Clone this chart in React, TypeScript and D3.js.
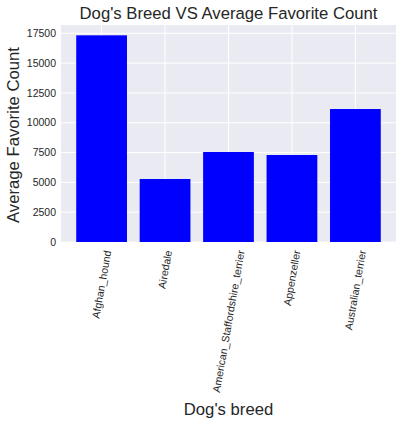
import React, { useEffect, useRef } from "react";
import * as d3 from "d3";

const breeds = ["Afghan_hound", "Airedale", "American_Staffordshire_terrier", "Appenzeller", "Australian_terrier"];
const avgFavorites = [17330, 5283, 7547, 7295, 11152];
const yTicks = [0, 2500, 5000, 7500, 10000, 12500, 15000, 17500];
const title = "Dog's Breed VS Average Favorite Count";
const xLabel = "Dog's breed";
const yLabel = "Average Favorite Count";

const W = 403;
const H = 425;
const FONT = "'Liberation Sans', Arial, sans-serif";
const TEXT = "#262626";

export default function App() {
  const ref = useRef<SVGSVGElement | null>(null);

  useEffect(() => {
    const svg = d3.select(ref.current);
    svg.selectAll("*").remove();

    const left = 61, right = 396, top = 25, bottom = 242;
    const n = breeds.length;
    const x = d3.scaleLinear().domain([-0.64, n - 1 + 0.64]).range([left, right]);
    const y = d3.scaleLinear().domain([0, d3.max(avgFavorites)! * 1.05]).range([bottom, top]);

    svg.append("rect").attr("x", left).attr("y", top).attr("width", right - left).attr("height", bottom - top).attr("fill", "#EAEAF2");

    // grid
    svg.selectAll("line.hg").data(yTicks).enter().append("line")
      .attr("x1", left).attr("x2", right)
      .attr("y1", d => y(d)).attr("y2", d => y(d))
      .attr("stroke", "#fff").attr("stroke-width", 1);
    svg.selectAll("line.vg").data(breeds).enter().append("line")
      .attr("x1", (_, i) => x(i)).attr("x2", (_, i) => x(i))
      .attr("y1", top).attr("y2", bottom)
      .attr("stroke", "#fff").attr("stroke-width", 1);

    // bars
    svg.selectAll("rect.bar").data(avgFavorites).enter().append("rect")
      .attr("x", (_, i) => x(i - 0.4))
      .attr("width", x(0.4) - x(-0.4))
      .attr("y", d => y(d))
      .attr("height", d => bottom - y(d))
      .attr("fill", "#0000FF");

    // y tick labels
    svg.selectAll("text.yt").data(yTicks).enter().append("text")
      .attr("x", 56).attr("y", d => y(d))
      .attr("dy", "0.35em")
      .attr("text-anchor", "end")
      .attr("font-family", FONT).attr("font-size", 10.5).attr("fill", TEXT)
      .text(d => String(d));

    // x tick labels rotated 80deg
    const ang = 80;
    const rad = (ang * Math.PI) / 180;
    const fs = 10.6;
    breeds.forEach((b, i) => {
      const t = svg.append("text")
        .attr("font-family", FONT).attr("font-size", fs).attr("fill", TEXT)
        .attr("text-anchor", "end")
        .attr("dy", "0.35em")
        .text(b);
      const w = (t.node() as SVGTextElement).getComputedTextLength();
      const ax = x(i) + Math.cos(rad) * w / 2;
      const ay = 249.5 + Math.cos(rad) * fs / 2;
      t.attr("transform", `translate(${ax},${ay}) rotate(${-ang})`);
    });

    // title
    svg.append("text")
      .attr("x", (left + right) / 2).attr("y", 19.3)
      .attr("text-anchor", "middle")
      .attr("font-family", FONT).attr("font-size", 16.7).attr("fill", TEXT)
      .text(title);

    // x label
    svg.append("text")
      .attr("x", (left + right) / 2).attr("y", 414.7)
      .attr("text-anchor", "middle")
      .attr("font-family", FONT).attr("font-size", 16.7).attr("fill", TEXT)
      .text(xLabel);

    // y label
    svg.append("text")
      .attr("transform", `translate(18.7,${(top + bottom) / 2 + 1.5}) rotate(-90)`)
      .attr("text-anchor", "middle")
      .attr("font-family", FONT).attr("font-size", 16.7).attr("fill", TEXT)
      .text(yLabel);
  }, []);

  return (
    <svg
      ref={ref}
      width={W}
      height={H}
      style={{ position: "absolute", left: 0, top: 0, background: "#fff" }}
    />
  );
}
